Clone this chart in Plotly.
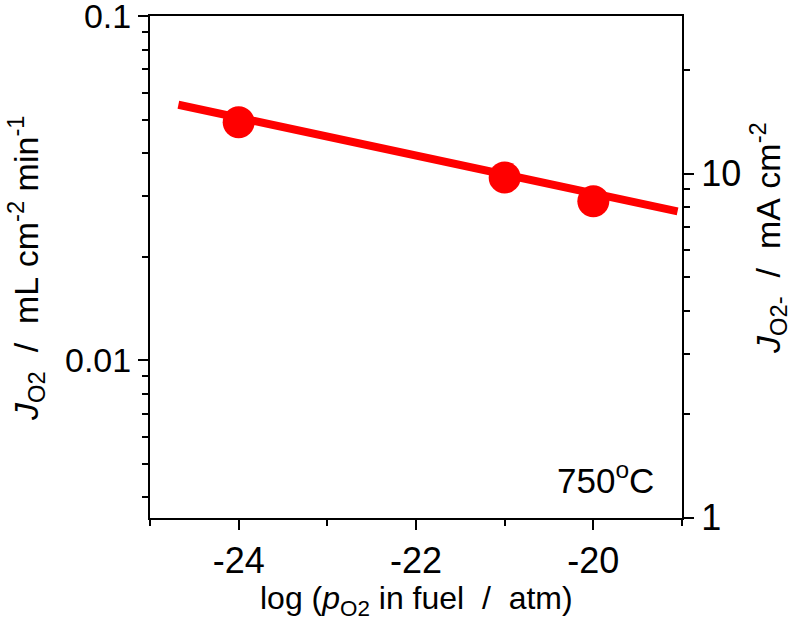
import numpy as np
import plotly.graph_objects as go

# Data
log_po2 = [-24, -21, -20]
j_o2 = [0.0492, 0.0340, 0.0290]          # mL cm^-2 min^-1
fit_x = [-24.68, -19.05]
fit_j = [0.0553, 0.0271]
K = 287.0                                  # mA cm^-2 per (mL cm^-2 min^-1)

x_major = [-24, -22, -20]
x_minor = [-25, -23, -21, -19]
left_major = [0.01, 0.1]
left_minor = [m * d for d in (0.001, 0.01) for m in range(2, 10)]
right_major = [1, 10]
right_minor = [m * d for d in (1, 10) for m in range(2, 10)]

FONT = "Liberation Sans, Arial, sans-serif"

fig = go.Figure()
fig.add_trace(go.Scatter(x=fit_x, y=fit_j, mode="lines",
                         line=dict(color="#ff0000", width=8),
                         showlegend=False, hoverinfo="skip"))
fig.add_trace(go.Scatter(x=log_po2, y=j_o2, mode="markers",
                         marker=dict(color="#ff0000", size=32),
                         showlegend=False))
fig.add_trace(go.Scatter(x=log_po2, y=[v * K for v in j_o2], mode="markers",
                         marker=dict(color="rgba(0,0,0,0)", size=1),
                         yaxis="y2", showlegend=False, hoverinfo="skip"))

bottom = 1.0 / K
axis_common = dict(showgrid=False, zeroline=False, showline=True,
                   linecolor="black", linewidth=2, ticks="outside",
                   tickcolor="black", tickwidth=2, ticklen=10,
                   ticklabeloverflow="allow", automargin=False)
xfont = dict(family=FONT, size=36, color="black")
yfont = dict(family=FONT, size=34, color="black")

fig.update_layout(
    width=800, height=628,
    margin=dict(l=150, r=118, t=16, b=110),
    plot_bgcolor="white", paper_bgcolor="white",
    xaxis=dict(range=[-25, -19], tickmode="array", tickvals=x_major,
               ticktext=[str(v) for v in x_major], mirror=True, tickfont=xfont,
               minor=dict(tickmode="array", tickvals=x_minor, ticklen=6,
                          tickwidth=2, tickcolor="black", ticks="outside"),
               **axis_common),
    yaxis=dict(type="log", range=[np.log10(bottom), -0.9995], tickmode="array",
               tickvals=left_major, ticktext=["0.01", "0.1"], mirror=False,
               tickfont=yfont,
               minor=dict(tickmode="array", tickvals=left_minor, ticklen=6,
                          tickwidth=2, tickcolor="black", ticks="outside"),
               **axis_common),
    yaxis2=dict(type="log", range=[-0.0005, np.log10(0.1 * K)], overlaying="y",
                side="right", tickmode="array", tickvals=right_major,
                ticktext=["1", "10"], tickfont=xfont,
                minor=dict(tickmode="array", tickvals=right_minor, ticklen=6,
                           tickwidth=2, tickcolor="black", ticks="outside"),
                **axis_common),
)

W, H = 532.0, 502.0
def px(xp):
    return (xp - 150) / W
def py(yp):
    return (518 - yp) / H

sp = "\u00a0"
fig.add_annotation(text=f"<i>J</i><sub>O2</sub>{sp}{sp}/{sp}{sp}mL{sp}cm<sup>-2</sup>{sp}min<sup>-1</sup>",
                   xref="paper", yref="paper", x=px(26), y=py(268),
                   textangle=-90, showarrow=False, xanchor="center", yanchor="middle",
                   font=dict(family=FONT, size=34, color="black"))
fig.add_annotation(text=f"<i>J</i><sub>O2-</sub>{sp}{sp}/{sp}{sp}mA{sp}cm<sup>-2</sup>",
                   xref="paper", yref="paper", x=px(768), y=py(238),
                   textangle=-90, showarrow=False, xanchor="center", yanchor="middle",
                   font=dict(family=FONT, size=34, color="black"))
fig.add_annotation(text=f"log{sp}(<i>p</i><sub>O2</sub>{sp}in{sp}fuel{sp}{sp}/{sp}{sp}atm)",
                   xref="paper", yref="paper", x=px(416), y=py(600),
                   showarrow=False, xanchor="center", yanchor="middle",
                   font=dict(family=FONT, size=32, color="black"))
fig.add_annotation(text="750<sup>o</sup>C",
                   xref="paper", yref="paper", x=px(656), y=py(478),
                   showarrow=False, xanchor="right", yanchor="middle",
                   font=dict(family=FONT, size=35, color="black"))

fig.write_html("out.html")
